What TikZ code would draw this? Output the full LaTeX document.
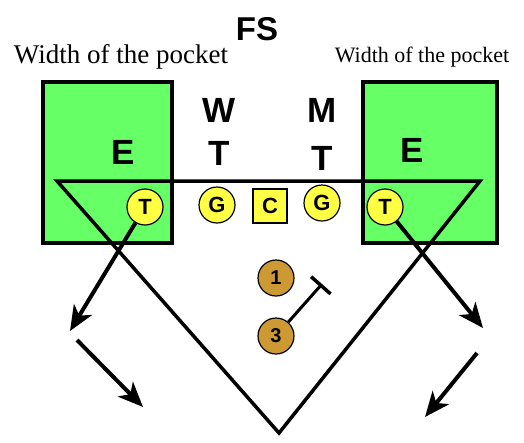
\documentclass[tikz,border=0pt]{standalone}
\usepackage{fontspec}
\setmainfont{Liberation Serif}
\newfontfamily\arialfont{Liberation Sans}
\usetikzlibrary{arrows.meta}
\definecolor{pocketgreen}{RGB}{102,255,102}
\definecolor{olyellow}{RGB}{255,255,68}
\definecolor{backgold}{RGB}{204,153,51}

\begin{document}
\begin{tikzpicture}[x=1pt,y=-1pt,
	lineman/.style={circle,draw,line width=1.2pt,fill=olyellow,minimum size=36pt,inner sep=0pt,font=\arialfont\bfseries\fontsize{22}{22}\selectfont},
	center/.style={rectangle,draw,line width=1.2pt,fill=olyellow,minimum size=34pt,inner sep=0pt,font=\arialfont\bfseries\fontsize{22}{22}\selectfont},
	back/.style={circle,draw,line width=1.2pt,fill=backgold,minimum size=36pt,inner sep=0pt,font=\arialfont\bfseries\fontsize{20}{20}\selectfont},
	bigletter/.style={anchor=base,inner sep=0pt,font=\arialfont\bfseries\fontsize{35}{35}\selectfont},
	pocket/.style={draw,line width=4pt,fill=pocketgreen},
	route/.style={line width=4pt,-{Stealth[length=25pt,width=21pt,inset=7pt]}}]
	\useasboundingbox (0,0) rectangle (524,442);
	% pockets
	\draw[pocket] (43,82) rectangle (172,243);
	\draw[pocket] (363,82) rectangle (497,243);
	\node[anchor=base,font=\fontsize{27}{27}\selectfont] (wl) at (121,63) {Width of the pocket};
	\node[anchor=base,font=\fontsize{22}{22}\selectfont] (wr) at (422,62) {Width of the pocket};
	% defense
	\node[bigletter,font=\arialfont\bfseries\fontsize{33}{33}\selectfont] (fs) at (257,40) {FS};
	\node[bigletter] (w) at (219,122) {W};
	\node[bigletter] (wt) at (219,165) {T};
	\node[bigletter] (m) at (322,122) {M};
	\node[bigletter] (mt) at (322,170) {T};
	\node[bigletter] (le) at (123,164) {E};
	\node[bigletter] (re) at (412,162) {E};
	% pocket line
	\coordinate (pl) at (57,181);
	\coordinate (pr) at (480,181);
	\coordinate (pb) at (279,433);
	\draw[line width=3.5pt,line join=miter] (pl) -- (pr) -- (pb) -- cycle;
	% offense
	\node[lineman] (lt) at (145,207) {T};
	\node[lineman] (lg) at (217,205) {G};
	\node[center] (c) at (270,206) {C};
	\node[lineman] (rg) at (322,203) {G};
	\node[lineman] (rt) at (385,207) {T};
	\node[back] (b1) at (276,278) {1};
	\node[back] (b3) at (276,336) {3};
	% routes
	\coordinate (la) at (70,331);
	\coordinate (lb1) at (77,340);
	\coordinate (lb2) at (143,407);
	\coordinate (ra) at (483,328);
	\coordinate (rb1) at (477,353);
	\coordinate (rb2) at (425,417);
	\coordinate (blk) at (322,284);
	\draw[route] (lt) -- (la);
	\draw[route] (lb1) -- (lb2);
	\draw[route] (rt) -- (ra);
	\draw[route] (rb1) -- (rb2);
	\draw[line width=3pt,-{Bar[width=26pt,line width=3.5pt]}] (b3) -- (blk);
\end{tikzpicture}
\end{document}
